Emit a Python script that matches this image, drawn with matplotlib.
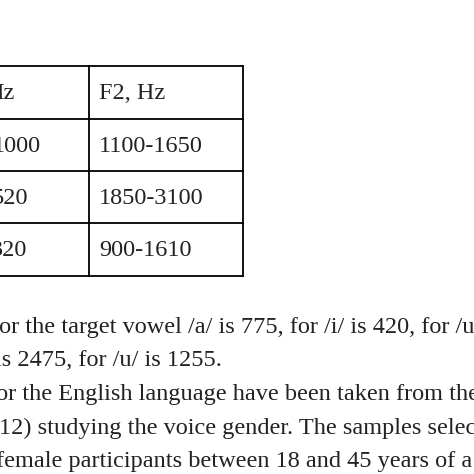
import matplotlib
matplotlib.use("Agg")
import matplotlib.pyplot as plt

header = ["Hz", "F2, Hz"]
col1 = ["1000", "520", "320"]
col2 = ["1100-1650", "1850-3100", "900-1610"]

paragraph = [
    "for the target vowel /a/ is 775, for /i/ is 420, for /u/",
    "is 2475, for /u/ is 1255.",
    "for the English language have been taken from the",
    "012) studying the voice gender. The samples selec",
    "female participants between 18 and 45 years of a",
]
para_x = [-9, -5, -12, -13, -4]

fig = plt.figure(figsize=(4.74, 4.74), dpi=100)
ax = fig.add_axes([0, 0, 1, 1])
ax.set_xlim(0, 474)
ax.set_ylim(474, 0)
ax.axis("off")

rows_y = [66, 119, 171, 223, 276]
col_x = [-5, 89, 243]
for y in rows_y:
    ax.plot([col_x[0], col_x[-1]], [y, y], color="black", lw=1.3)
for x in col_x[1:]:
    ax.plot([x, x], [rows_y[0], rows_y[-1]], color="black", lw=1.3)

font = dict(family="Liberation Serif", fontsize=17.5, color="#222222", va="center")
cells = [header] + [[a, b] for a, b in zip(col1, col2)]
left_x = [-14, -7, -9, -9]
for i, (a, b) in enumerate(cells):
    yc = (rows_y[i] + rows_y[i + 1]) / 2 + 1
    ax.text(left_x[i], yc, a, **font)
    ax.text(99, yc, b, **font)

for i, line in enumerate(paragraph):
    ax.text(para_x[i], 327 + i * 33.7, line, **font)

fig.savefig("out.png", dpi=100)
